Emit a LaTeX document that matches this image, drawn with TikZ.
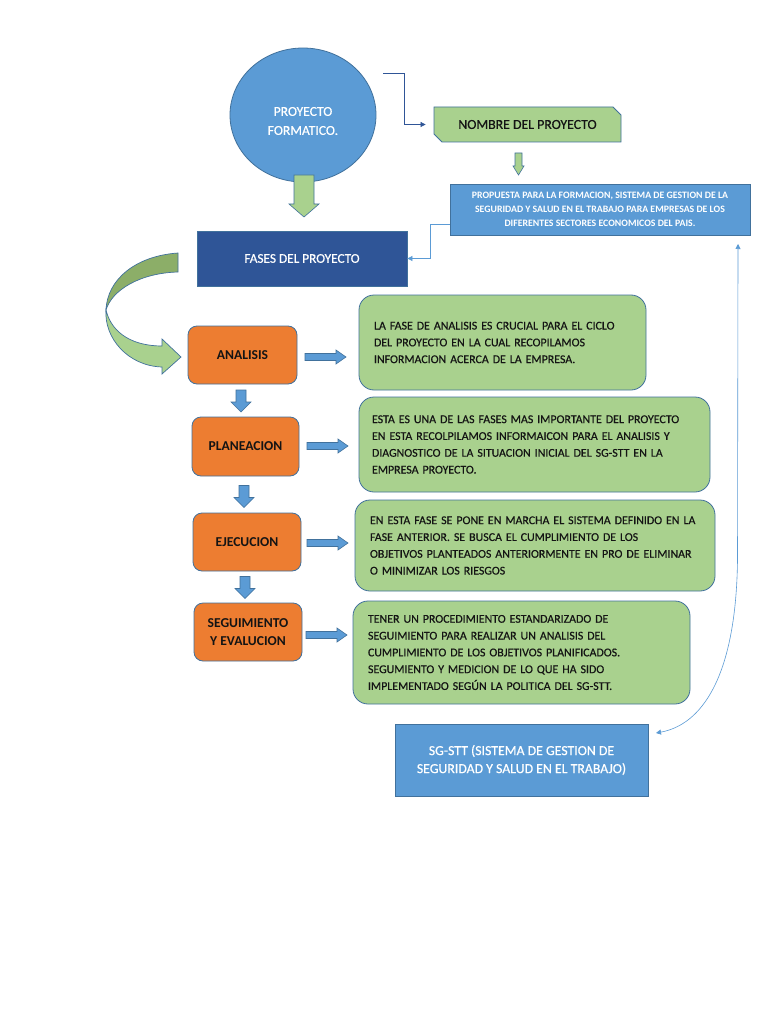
\documentclass[tikz,border=0pt]{standalone}
\usepackage{fontspec}
\setmainfont{Carlito}
\newfontfamily\semib[FakeBold=0.5]{Carlito}
\usetikzlibrary{arrows.meta,shapes.geometric,shapes.misc}
\definecolor{cblue}{HTML}{5B9BD5}
\definecolor{cline}{HTML}{41719C}
\definecolor{cdark}{HTML}{2F5597}
\definecolor{cgreen}{HTML}{A9D18E}
\definecolor{cgreendk}{HTML}{8CAE68}
\definecolor{corange}{HTML}{ED7D31}
\definecolor{ctext}{HTML}{141414}
\begin{document}
\begin{tikzpicture}[x=1pt,y=-1pt,
  bluebox/.style={rectangle,draw=cline,line width=0.8pt,fill=cblue,text=white,align=center,inner sep=0pt},
  fasebox/.style={rectangle,rounded corners=9pt,draw=cline,line width=0.8pt,fill=corange,text=ctext,align=center,inner sep=0pt,minimum width=108pt,minimum height=58pt,font=\fontsize{13.6}{18.5}\selectfont\bfseries},
  greenbox/.style={rectangle,rounded corners=15pt,draw=cline,line width=0.8pt,fill=cgreen,text=ctext,align=left,inner xsep=15pt,inner ysep=0pt,font=\semib\fontsize{11.9}{16.8}\selectfont},
  blk/.style={draw=cline,line width=0.6pt,fill=cblue},
  gblk/.style={draw=cline,line width=0.6pt,fill=cgreen},
  rblk/.pic={\draw[blk] (-20.5,-3.5) -- (10.5,-3.5) -- (10.5,-7) -- (20.5,0) -- (10.5,7) -- (10.5,3.5) -- (-20.5,3.5) -- cycle;},
  dblk/.pic={\draw[blk] (-5,-11) -- (5,-11) -- (5,1) -- (10,1) -- (0,11) -- (-10,1) -- (-5,1) -- cycle;},
  gbig/.pic={\draw[gblk] (-10,-21) -- (10,-21) -- (10,8) -- (15,8) -- (0,21) -- (-15,8) -- (-10,8) -- cycle;},
  gsmall/.pic={\draw[gblk] (-3.5,-11) -- (3.5,-11) -- (3.5,2) -- (5.5,2) -- (0,11) -- (-5.5,2) -- (-3.5,2) -- cycle;},
  conn/.style={line width=0.7pt,-{Triangle[length=5pt,width=5pt]}}
]
\useasboundingbox[fill=white] (0,0) rectangle (768,1024);

% top ellipse
\node[ellipse,draw=cline,line width=0.8pt,fill=cblue,minimum width=146pt,minimum height=134pt,inner sep=0pt] (proy) at (303,115) {};
\node[text=white,align=center,inner sep=0pt,font=\semib\fontsize{13.6}{19}\selectfont] (proyt) at (303,121) {PROYECTO\\FORMATICO.};

\node[chamfered rectangle,chamfered rectangle corners={north east,south west},chamfered rectangle xsep=4pt,chamfered rectangle ysep=4pt,draw=cline,line width=0.8pt,fill=cgreen,text=ctext,inner sep=0pt,minimum width=187pt,minimum height=35pt,font=\semib\fontsize{13.8}{16}\selectfont] (nombre) at (527.5,124.5) {NOMBRE DEL PROYECTO};

\node[bluebox,minimum width=300pt,minimum height=51pt,font=\fontsize{9.8}{14}\selectfont\bfseries] (prop) at (600,209.5)
  {PROPUESTA PARA LA FORMACION, SISTEMA DE GESTION DE LA\\SEGURIDAD Y SALUD EN EL TRABAJO PARA EMPRESAS DE LOS\\DIFERENTES SECTORES ECONOMICOS DEL PAIS.};

\node[bluebox,fill=cdark,minimum width=210pt,minimum height=55pt,font=\semib\fontsize{13.3}{16}\selectfont] (fases) at (302,258.5) {FASES DEL PROYECTO};

% green block arrows
\pic (g1) at (304,196) {gbig};
\pic (g2) at (518.5,164) {gsmall};

% curved arrow
\draw[draw=cline,line width=0.7pt,fill=cgreendk] (178,253) .. controls (135,256) and (107,280) .. (106,310) .. controls (112,290) and (140,273) .. (178,272) -- cycle;
\draw[draw=cline,line width=0.7pt,fill=cgreen] (106,310) .. controls (104,338) and (128,366) .. (162,367) -- (162,374) -- (181,357) -- (162,339) -- (162,346) .. controls (135,346) and (112,335) .. (106,310) -- cycle;

% phases
\node[fasebox,minimum width=109pt] (ana) at (242.5,355) {ANALISIS};
\node[fasebox,minimum width=107pt,minimum height=59pt] (pla) at (245.5,446.5) {PLANEACION};
\node[fasebox] (eje) at (247,542) {EJECUCION};
\node[fasebox] (seg) at (248,632) {SEGUIMIENTO\\Y EVALUCION};

\pic (d1) at (241,401) {dblk};
\pic (d2) at (244,496.5) {dblk};
\pic (d3) at (245,587.5) {dblk};

\pic (r1) at (325.5,357) {rblk};
\pic (r2) at (327.5,446) {rblk};
\pic (r3) at (327.5,543) {rblk};
\pic (r4) at (326.5,635) {rblk};

\node[greenbox,minimum width=287pt,minimum height=95pt,text width=257pt] (t1) at (502.5,342.5)
  {LA FASE DE ANALISIS ES CRUCIAL PARA EL CICLO\\DEL PROYECTO EN LA CUAL RECOPILAMOS\\INFORMACION ACERCA DE LA EMPRESA.};
\node[greenbox,minimum width=351pt,minimum height=95pt,text width=325pt,inner xsep=13pt] (t2) at (534.5,444.5)
  {ESTA ES UNA DE LAS FASES MAS IMPORTANTE DEL PROYECTO\\EN ESTA RECOLPILAMOS INFORMAICON PARA EL ANALISIS Y\\DIAGNOSTICO DE LA SITUACION INICIAL DEL SG-STT EN LA\\EMPRESA PROYECTO.};
\node[greenbox,minimum width=360pt,minimum height=91pt,text width=330pt] (t3) at (535,545.5)
  {EN ESTA FASE SE PONE EN MARCHA EL SISTEMA DEFINIDO EN LA\\FASE ANTERIOR. SE BUSCA EL CUMPLIMIENTO DE LOS\\OBJETIVOS PLANTEADOS ANTERIORMENTE EN PRO DE ELIMINAR\\O MINIMIZAR LOS RIESGOS};
\node[greenbox,minimum width=337pt,minimum height=103pt,text width=307pt] (t4) at (521.5,652.5)
  {TENER UN PROCEDIMIENTO ESTANDARIZADO DE\\SEGUIMIENTO PARA REALIZAR UN ANALISIS DEL\\CUMPLIMIENTO DE LOS OBJETIVOS PLANIFICADOS.\\SEGUMIENTO Y MEDICION DE LO QUE HA SIDO\\IMPLEMENTADO SEGÚN LA POLITICA DEL SG-STT.};

\node[bluebox,minimum width=253pt,minimum height=72pt,font=\semib\fontsize{13.8}{18}\selectfont] (sg) at (521.5,760)
  {SG-STT (SISTEMA DE GESTION DE\\SEGURIDAD Y SALUD EN EL TRABAJO)};

% connectors
\coordinate (e1) at (383,73);
\draw[conn,cdark] (e1) -- (404,73) |- ([xshift=-8pt]nombre.west);
\draw[conn,cblue] ([yshift=-14.5pt]prop.west) -- (430,224) |- (fases.east);
\coordinate (c1) at (738,244);
\coordinate (c2) at (656,733);
\draw[cblue,line width=0.6pt,{Triangle[length=5pt,width=5pt]}-{Triangle[length=5pt,width=5pt]}] (c1) -- (737.5,560) .. controls (736,680) and (700,725) .. (c2);
\end{tikzpicture}
\end{document}
